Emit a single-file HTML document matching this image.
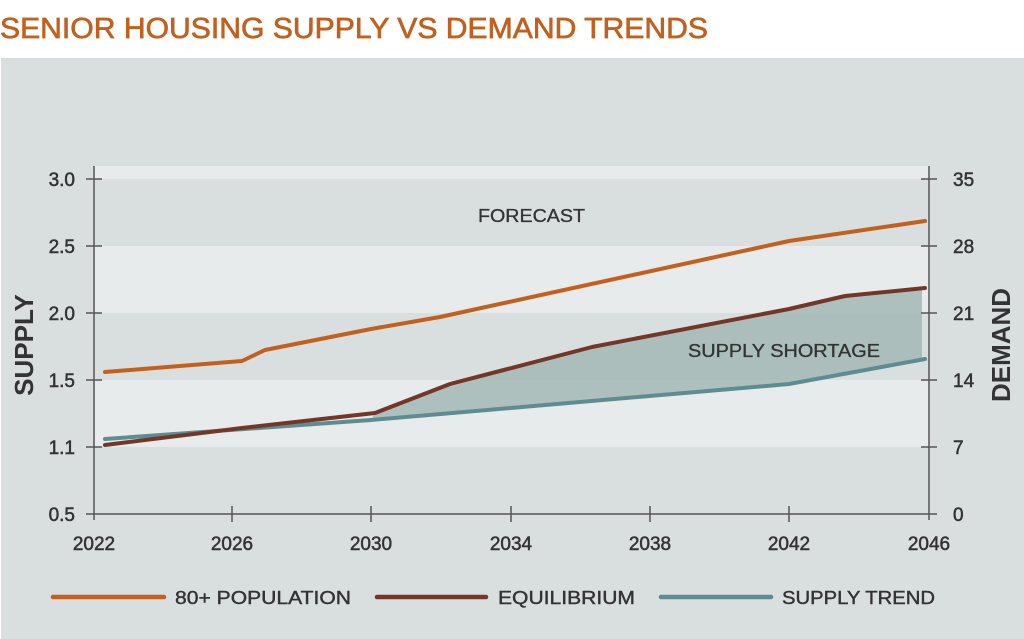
<!DOCTYPE html>
<html><head><meta charset="utf-8"><style>
html,body{margin:0;padding:0;background:#fff}
svg{display:block}
text{font-family:"Liberation Sans",sans-serif}
</style></head><body>
<svg width="1024" height="639" viewBox="0 0 1024 639" xmlns="http://www.w3.org/2000/svg">
<rect x="0" y="0" width="1024" height="639" fill="#fff"/>
<text x="0" y="38" font-size="29" fill="#c2611f" stroke="#c2611f" stroke-width="0.7" textLength="708" lengthAdjust="spacingAndGlyphs">SENIOR HOUSING SUPPLY VS DEMAND TRENDS</text>
<rect x="1" y="58" width="1023" height="581" fill="#d9dfde"/>
<rect x="94" y="166" width="835" height="13" fill="#e7ebeb"/>
<rect x="94" y="179" width="835" height="67" fill="#d9dfde"/>
<rect x="94" y="246" width="835" height="67" fill="#e7ebeb"/>
<rect x="94" y="313" width="835" height="67" fill="#d9dfde"/>
<rect x="94" y="380" width="835" height="67" fill="#e7ebeb"/>
<rect x="94" y="447" width="835" height="67" fill="#d9dfde"/>
<polygon points="371,420 375,413 450,384 592,347 789,309 845,296 922,289 922,360 789,384" fill="#9fb5b2" opacity="0.8"/>
<g stroke="#555" stroke-width="1.5" fill="none">
<line x1="94" y1="166" x2="94" y2="520"/>
<line x1="929" y1="166" x2="929" y2="520"/>
<line x1="86" y1="514" x2="937" y2="514"/>
<line x1="86" y1="179" x2="102" y2="179"/><line x1="86" y1="246" x2="102" y2="246"/><line x1="86" y1="313" x2="102" y2="313"/><line x1="86" y1="380" x2="102" y2="380"/><line x1="86" y1="447" x2="102" y2="447"/>
<line x1="921" y1="179" x2="937" y2="179"/><line x1="921" y1="246" x2="937" y2="246"/><line x1="921" y1="313" x2="937" y2="313"/><line x1="921" y1="380" x2="937" y2="380"/><line x1="921" y1="447" x2="937" y2="447"/>
<line x1="232" y1="506" x2="232" y2="522"/><line x1="371" y1="506" x2="371" y2="522"/><line x1="511" y1="506" x2="511" y2="522"/><line x1="650" y1="506" x2="650" y2="522"/><line x1="789" y1="506" x2="789" y2="522"/>
</g>
<g font-size="19" fill="#333" stroke="#333" stroke-width="0.5" text-anchor="end">
<text x="75" y="186">3.0</text><text x="75" y="253">2.5</text><text x="75" y="320">2.0</text><text x="75" y="387">1.5</text><text x="75" y="454">1.1</text><text x="75" y="521">0.5</text>
</g>
<g font-size="19" fill="#333" stroke="#333" stroke-width="0.5" text-anchor="start">
<text x="953" y="186">35</text><text x="953" y="253">28</text><text x="953" y="320">21</text><text x="953" y="387">14</text><text x="953" y="454">7</text><text x="953" y="521">0</text>
</g>
<g font-size="19" fill="#333" stroke="#333" stroke-width="0.5" text-anchor="middle">
<text x="94" y="550">2022</text><text x="232" y="550">2026</text><text x="371" y="550">2030</text><text x="511" y="550">2034</text><text x="650" y="550">2038</text><text x="789" y="550">2042</text><text x="929" y="550">2046</text>
</g>
<text transform="translate(33,345) rotate(-90)" font-size="26" font-weight="bold" fill="#333" text-anchor="middle">SUPPLY</text>
<text transform="translate(1010,345) rotate(-90)" font-size="26" font-weight="bold" fill="#333" text-anchor="middle">DEMAND</text>
<text x="478" y="222" font-size="18" fill="#333" stroke="#333" stroke-width="0.3" textLength="107" lengthAdjust="spacingAndGlyphs">FORECAST</text>
<text x="688" y="357" font-size="18" fill="#333" stroke="#333" stroke-width="0.3" textLength="192" lengthAdjust="spacingAndGlyphs">SUPPLY SHORTAGE</text>
<g fill="none" stroke-width="4" stroke-linecap="round" stroke-linejoin="round">
<polyline stroke="#5e8c93" points="105,439 371,420 789,384 925,359"/>
<polyline stroke="#733728" points="105,445 242,428 375,413 450,384 592,347 789,309 845,296 925,288"/>
<polyline stroke="#c2611f" points="105,372 242,361 265,350 371,329 440,317 789,241 925,221"/>
</g>
<g stroke-width="4.5" stroke-linecap="round">
<line x1="53" y1="597" x2="164" y2="597" stroke="#c2611f"/>
<line x1="377" y1="597" x2="486" y2="597" stroke="#733728"/>
<line x1="661" y1="597" x2="771" y2="597" stroke="#5e8c93"/>
</g>
<g font-size="18" fill="#333" stroke="#333" stroke-width="0.4">
<text x="175" y="604" textLength="176" lengthAdjust="spacingAndGlyphs">80+ POPULATION</text>
<text x="498" y="604" textLength="137" lengthAdjust="spacingAndGlyphs">EQUILIBRIUM</text>
<text x="782" y="604" textLength="153" lengthAdjust="spacingAndGlyphs">SUPPLY TREND</text>
</g>
</svg>
</body></html>
